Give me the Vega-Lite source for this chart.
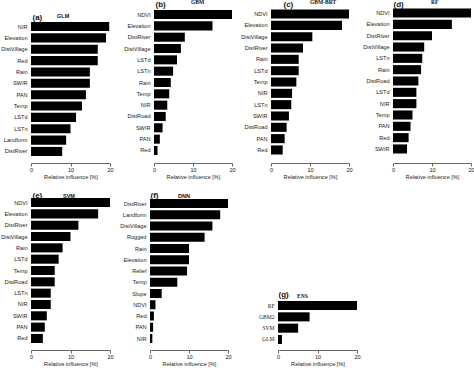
{
  "$schema": "https://vega.github.io/schema/vega-lite/v6.json",
  "padding": {"left": 0, "top": -1, "right": 0, "bottom": 0},
  "background": "white",
  "spacing": 10,
  "datasets": {
    "glm": [
      {"k": "NIR", "v": 19.8}, {"k": "Elevation", "v": 19.0}, {"k": "DistVillage", "v": 16.9}, {"k": "Red", "v": 16.9},
      {"k": "Rain", "v": 14.9}, {"k": "SWIR", "v": 14.9}, {"k": "PAN", "v": 13.9}, {"k": "Temp", "v": 12.9},
      {"k": "LSTd", "v": 11.4}, {"k": "LSTn", "v": 10.0}, {"k": "Landform", "v": 8.9}, {"k": "DistRiver", "v": 7.9}
    ],
    "gbm": [
      {"k": "NDVI", "v": 20.0}, {"k": "Elevation", "v": 15.0}, {"k": "DistRiver", "v": 7.9}, {"k": "DistVillage", "v": 6.9},
      {"k": "LSTd", "v": 5.9}, {"k": "LSTn", "v": 4.9}, {"k": "Rain", "v": 4.3}, {"k": "Temp", "v": 3.9},
      {"k": "NIR", "v": 3.4}, {"k": "DistRoad", "v": 3.0}, {"k": "SWIR", "v": 2.2}, {"k": "PAN", "v": 1.5}, {"k": "Red", "v": 0.9}
    ],
    "brt": [
      {"k": "NDVI", "v": 20.0}, {"k": "Elevation", "v": 18.2}, {"k": "DistVillage", "v": 10.6}, {"k": "DistRiver", "v": 8.2},
      {"k": "Rain", "v": 7.1}, {"k": "LSTd", "v": 7.1}, {"k": "Temp", "v": 6.5}, {"k": "NIR", "v": 5.4},
      {"k": "LSTn", "v": 5.2}, {"k": "SWIR", "v": 4.6}, {"k": "DistRoad", "v": 4.0}, {"k": "PAN", "v": 3.5}, {"k": "Red", "v": 3.0}
    ],
    "rf": [
      {"k": "NDVI", "v": 20.0}, {"k": "Elevation", "v": 15.1}, {"k": "DistRiver", "v": 10.0}, {"k": "DistVillage", "v": 8.0},
      {"k": "LSTn", "v": 7.5}, {"k": "Rain", "v": 7.2}, {"k": "DistRoad", "v": 6.5}, {"k": "LSTd", "v": 6.0},
      {"k": "NIR", "v": 6.0}, {"k": "Temp", "v": 5.0}, {"k": "PAN", "v": 4.5}, {"k": "Red", "v": 4.0}, {"k": "SWIR", "v": 3.6}
    ],
    "svm": [
      {"k": "NDVI", "v": 20.0}, {"k": "Elevation", "v": 17.0}, {"k": "DistRiver", "v": 12.0}, {"k": "DistVillage", "v": 10.0},
      {"k": "Rain", "v": 8.0}, {"k": "LSTd", "v": 7.0}, {"k": "Temp", "v": 6.0}, {"k": "DistRoad", "v": 6.0},
      {"k": "LSTn", "v": 5.0}, {"k": "NIR", "v": 5.0}, {"k": "SWIR", "v": 4.0}, {"k": "PAN", "v": 3.5}, {"k": "Red", "v": 3.0}
    ],
    "dnn": [
      {"k": "DistRiver", "v": 20.0}, {"k": "Landform", "v": 18.0}, {"k": "DistVillage", "v": 16.0}, {"k": "Rugged", "v": 14.0},
      {"k": "Rain", "v": 10.0}, {"k": "Elevation", "v": 10.0}, {"k": "Relief", "v": 9.5}, {"k": "Temp", "v": 7.0},
      {"k": "Slope", "v": 3.0}, {"k": "NDVI", "v": 1.4}, {"k": "Red", "v": 1.0}, {"k": "PAN", "v": 0.8}, {"k": "NIR", "v": 0.6}
    ],
    "ens": [
      {"k": "RF", "v": 20.0}, {"k": "GBM2", "v": 8.0}, {"k": "SVM", "v": 5.1}, {"k": "GLM", "v": 1.0}
    ]
  },
  "config": {
    "view": {"stroke": null},
    "bar": {"color": "#000000"},
    "axisX": {
      "labelFont": "Liberation Sans", "labelFontSize": 5.6, "labelColor": "#222",
      "titleFont": "Liberation Sans", "titleFontSize": 5.6, "titleFontWeight": "normal", "titleColor": "#222",
      "domainColor": "#666", "tickColor": "#666", "tickSize": 3, "grid": false,
      "values": [0, 5, 10, 15, 20], "labelPadding": 1, "titlePadding": 2, "labelFlush": false
    },
    "axisY": {
      "labelFont": "Liberation Sans", "labelFontSize": 5.6, "labelColor": "#222",
      "domain": false, "ticks": false, "labelPadding": 4, "grid": false,
      "titleAngle": 0, "titleAlign": "left", "titleBaseline": "alphabetic",
      "titleFont": "Liberation Sans", "titleFontSize": 8, "titleFontWeight": "bold", "titleColor": "#111"
    },
    "title": {"anchor": "start", "frame": "group", "fontSize": 5.5, "font": "Liberation Sans", "fontWeight": "bold", "offset": 1, "color": "#111"}
  },
  "vconcat": [
    {
      "bounds": "flush",
      "spacing": 44,
      "hconcat": [
        {
          "data": {"name": "glm"},
          "width": 79, "height": 155,
          "title": {"text": "GLM", "dx": 26, "dy": 12},
          "mark": "bar",
          "encoding": {
            "x": {"field": "v", "type": "quantitative", "scale": {"domain": [0, 20]}, "axis": {"title": "Relative influence [%]"}},
            "y": {"field": "k", "type": "nominal", "sort": null,
                  "scale": {"range": [14, 148], "paddingInner": 0.2, "paddingOuter": 0},
                  "axis": {"title": "(a)", "titleX": 1, "titleY": 11}}
          }
        },
        {
          "bounds": "flush",
          "spacing": 39,
          "hconcat": [
            {
              "data": {"name": "gbm"},
              "width": 78, "height": 155,
              "title": {"text": "GBM", "dx": 37, "dy": 6, "font": "Liberation Serif"},
              "mark": "bar",
              "encoding": {
                "x": {"field": "v", "type": "quantitative", "scale": {"domain": [0, 20]}, "axis": {"title": "Relative influence [%]"}},
                "y": {"field": "k", "type": "nominal", "sort": null,
                      "scale": {"range": [2, 147], "paddingInner": 0.2, "paddingOuter": 0},
                      "axis": {"title": "(b)", "titleX": 1, "titleY": -2}}
              }
            },
            {
              "bounds": "flush",
              "spacing": 44,
              "hconcat": [
                {
                  "data": {"name": "brt"},
                  "width": 78, "height": 155,
                  "title": {"text": "GBM-BRT", "dx": 39, "dy": 6, "font": "Liberation Serif"},
                  "mark": "bar",
                  "encoding": {
                    "x": {"field": "v", "type": "quantitative", "scale": {"domain": [0, 20]}, "axis": {"title": "Relative influence [%]"}},
                    "y": {"field": "k", "type": "nominal", "sort": null,
                          "scale": {"range": [1.5, 146.5], "paddingInner": 0.2, "paddingOuter": 0},
                          "axis": {"title": "(c)", "titleX": 12, "titleY": -2}}
                  }
                },
                {
                  "data": {"name": "rf"},
                  "width": 78, "height": 155,
                  "title": {"text": "RF", "dx": 38, "dy": 6, "font": "Liberation Serif"},
                  "mark": "bar",
                  "encoding": {
                    "x": {"field": "v", "type": "quantitative", "scale": {"domain": [0, 20]}, "axis": {"title": "Relative influence [%]"}},
                    "y": {"field": "k", "type": "nominal", "sort": null,
                          "scale": {"range": [0.5, 145.5], "paddingInner": 0.2, "paddingOuter": 0},
                          "axis": {"title": "(d)", "titleX": 0, "titleY": -2}}
                  }
                }
              ]
            }
          ]
        }
      ]
    },
    {
      "bounds": "flush",
      "spacing": 40,
      "hconcat": [
        {
          "data": {"name": "svm"},
          "width": 79, "height": 154,
          "title": {"text": "SVM", "dx": 32, "dy": 9},
          "mark": "bar",
          "encoding": {
            "x": {"field": "v", "type": "quantitative", "scale": {"domain": [0, 20]}, "axis": {"title": "Relative influence [%]"}},
            "y": {"field": "k", "type": "nominal", "sort": null,
                  "scale": {"range": [2, 147], "paddingInner": 0.2, "paddingOuter": 0},
                  "axis": {"title": "(e)", "titleX": 1, "titleY": 1}}
          }
        },
        {
          "bounds": "flush",
          "spacing": 50,
          "hconcat": [
            {
              "data": {"name": "dnn"},
              "width": 78, "height": 154,
              "title": {"text": "DNN", "dx": 28, "dy": 9},
              "mark": "bar",
              "encoding": {
                "x": {"field": "v", "type": "quantitative", "scale": {"domain": [0, 20]}, "axis": {"title": "Relative influence [%]"}},
                "y": {"field": "k", "type": "nominal", "sort": null,
                      "scale": {"range": [3, 147], "paddingInner": 0.2, "paddingOuter": 0},
                      "axis": {"title": "(f)", "titleX": 0, "titleY": 1}}
              }
            },
            {
              "data": {"name": "ens"},
              "width": 79, "height": 154,
              "title": {"text": "ENS", "dx": 19, "dy": 104, "font": "Liberation Serif"},
              "mark": "bar",
              "encoding": {
                "x": {"field": "v", "type": "quantitative", "scale": {"domain": [0, 20]}, "axis": {"title": "Relative influence [%]"}},
                "y": {"field": "k", "type": "nominal", "sort": null,
                      "scale": {"range": [105, 148], "paddingInner": 0.2, "paddingOuter": 0},
                      "axis": {"title": "(g)", "titleX": 0, "titleY": 100, "labelFont": "Liberation Serif"}}
              }
            }
          ]
        }
      ]
    }
  ]
}
